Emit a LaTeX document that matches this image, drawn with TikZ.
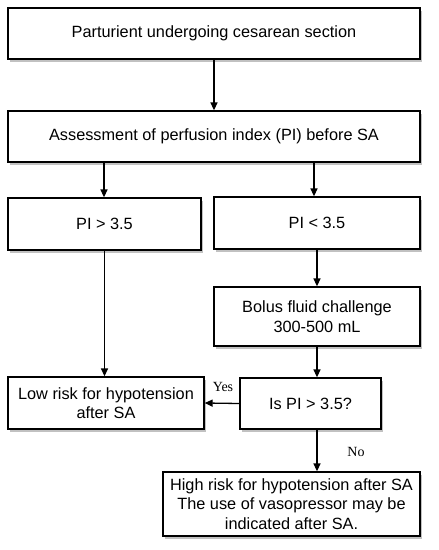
\documentclass[tikz,border=0pt]{standalone}
\usepackage{fontspec}
\setmainfont{Liberation Sans}
\newfontfamily\serifyn{Liberation Serif}
\usetikzlibrary{arrows.meta,shadows,positioning}
\tikzset{
  flowbox/.style={draw=black, line width=1.3pt, fill=white, rectangle, inner sep=0pt,
    align=center, font=\fontsize{16.3}{19.5}\selectfont,
    drop shadow={shadow xshift=1.5pt, shadow yshift=-2.5pt, opacity=0.4, fill=black!60}},
  flowarrow/.style={draw=black, line width=1.3pt, -{Triangle[length=8pt,width=7pt]}},
  ynlabel/.style={font=\serifyn\fontsize{14}{16}\selectfont, inner sep=0pt}
}
\begin{document}
\begin{tikzpicture}[x=1pt,y=-1pt]
\useasboundingbox[fill=white] (0,0) rectangle (439,550);
\node[flowbox, minimum width=412pt, minimum height=51pt] (b1) at (214,33.5) {Parturient undergoing cesarean section};
\node[flowbox, minimum width=412pt, minimum height=51pt] (b2) at (214,136.5) {Assessment of perfusion index (PI) before SA};
\node[flowbox, minimum width=193pt, minimum height=52pt] (gt) at (104.5,224) {PI > 3.5};
\node[flowbox, minimum width=206pt, minimum height=52pt] (lt) at (317,223) {PI < 3.5};
\node[flowbox, minimum width=206pt, minimum height=59pt] (bolus) at (317,316.5) {Bolus fluid challenge\\300-500 mL};
\node[flowbox, minimum width=196pt, minimum height=52pt] (low) at (106,403) {Low risk for hypotension\\after SA};
\node[flowbox, minimum width=141pt, minimum height=51pt] (ispi) at (310.5,403.5) {Is PI > 3.5?};
\node[flowbox, minimum width=257pt, minimum height=64pt] (high) at (291.5,504) {High risk for hypotension after SA\\The use of vasopressor may be\\indicated after SA.};
\coordinate (b2l) at (104,162);
\coordinate (b2r) at (314,162);
\draw[flowarrow] (b1.south) -- (b2.north);
\draw[flowarrow] (b2l) -- (b2l |- gt.north);
\draw[flowarrow] (b2r) -- (b2r |- lt.north);
\draw[flowarrow] (lt.south) -- (bolus.north);
\draw[flowarrow] (bolus.south) -- (bolus.south |- ispi.north);
\draw[flowarrow] (gt.south) -- (gt.south |- low.north);
\draw[flowarrow] (ispi.west) -- (low.east);
\draw[flowarrow] (ispi.south -| bolus.south) -- (high.north -| bolus.south);
\node[ynlabel] (yes) at (223,387) {Yes};
\node[ynlabel] (no) at (356,452) {No};
\end{tikzpicture}
\end{document}
